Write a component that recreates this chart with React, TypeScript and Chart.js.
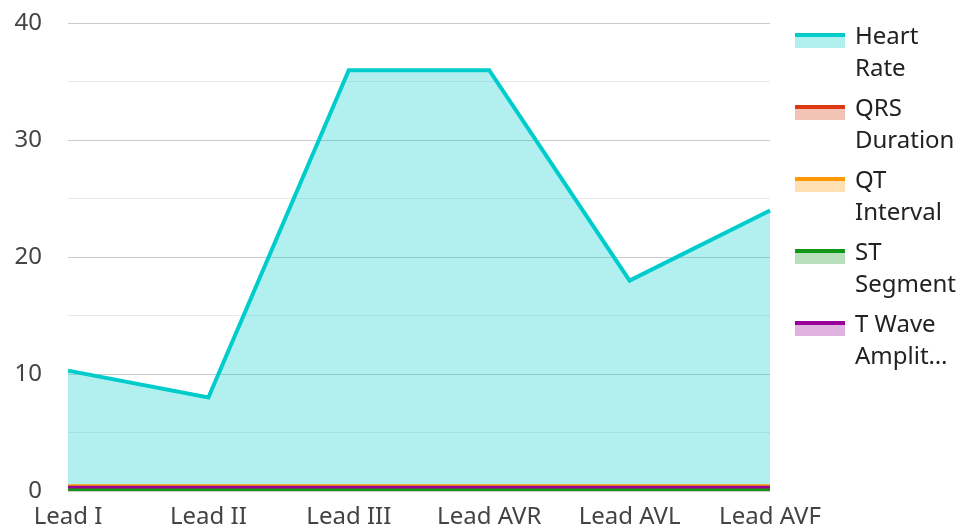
import React, { useEffect, useRef } from 'react';
import { Chart, registerables } from 'chart.js';

Chart.register(...registerables);

const categories = ['Lead I', 'Lead II', 'Lead III', 'Lead AVR', 'Lead AVL', 'Lead AVF'];
const heartRate = [10.3, 8.0, 36.0, 36.0, 18.0, 24.0];
const qrsDuration = [0.2, 0.2, 0.2, 0.2, 0.2, 0.2];
const qtInterval = [0.45, 0.45, 0.45, 0.45, 0.45, 0.45];
const stSegment = [0.08, 0.08, 0.08, 0.08, 0.08, 0.08];
const tWaveAmplitude = [0.33, 0.33, 0.33, 0.33, 0.33, 0.33];
const seriesNames = ['Heart Rate', 'QRS Duration', 'QT Interval', 'ST Segment', 'T Wave Amplitude'];
const legendLines = [
  ['Heart', 'Rate'],
  ['QRS', 'Duration'],
  ['QT', 'Interval'],
  ['ST', 'Segment'],
  ['T Wave', 'Amplit…'],
];
const yMin = 0;
const yMax = 40;
const yStep = 5;
const yLabelStep = 10;

const lineColors = ['#00cccc', '#dc3912', '#ff9900', '#109618', '#990099'];
const fillColors = [
  'rgba(0,204,204,0.3)',
  'rgba(220,57,18,0.3)',
  'rgba(255,153,0,0.3)',
  'rgba(16,150,24,0.3)',
  'rgba(153,0,153,0.3)',
];
const lineWidths = [4, 3, 3, 3, 3];
const drawOrders = [10, 4, 3, 1, 2];
const FONT = '"Noto Sans", "Open Sans", sans-serif';

const legendPlugin = {
  id: 'customLegend',
  afterDraw(chart: any) {
    const ctx = chart.ctx;
    const area = chart.chartArea;
    ctx.save();
    ctx.font = `24px ${FONT}`;
    ctx.textBaseline = 'alphabetic';
    ctx.textAlign = 'left';
    const boxX = area.right + 25;
    legendLines.forEach((lines, i) => {
      const top = 33 + i * 72;
      ctx.fillStyle = fillColors[i];
      ctx.fillRect(boxX, top, 50, 15);
      ctx.fillStyle = lineColors[i];
      ctx.fillRect(boxX, top, 50, 4);
      ctx.fillStyle = '#222222';
      lines.forEach((t, j) => {
        ctx.fillText(t, boxX + 60, top + 11 + j * 32);
      });
    });
    ctx.restore();
  },
};

export default function App() {
  const ref = useRef<HTMLCanvasElement | null>(null);
  useEffect(() => {
    if (!ref.current) return;
    const series = [heartRate, qrsDuration, qtInterval, stSegment, tWaveAmplitude];
    const chart = new Chart(ref.current, {
      type: 'line',
      data: {
        labels: categories,
        datasets: series.map((d, i) => ({
          label: seriesNames[i],
          data: d,
          borderColor: lineColors[i],
          backgroundColor: fillColors[i],
          borderWidth: lineWidths[i],
          borderJoinStyle: 'miter' as const,
          fill: 'origin',
          pointRadius: 0,
          pointHoverRadius: 0,
          tension: 0,
          order: drawOrders[i],
        })),
      },
      options: {
        animation: false,
        responsive: true,
        maintainAspectRatio: false,
        layout: { padding: { top: 23.5, right: 192, left: 0, bottom: 0 } },
        plugins: {
          legend: { display: false },
          tooltip: { enabled: false },
        },
        scales: {
          x: {
            offset: false,
            grid: { display: false },
            border: { display: false },
            ticks: {
              autoSkip: false,
              maxRotation: 0,
              color: '#444444',
              font: { family: FONT, size: 24 },
              padding: 4,
            },
            afterFit(scale: any) {
              scale.height = 40;
            },
          },
          y: {
            min: yMin,
            max: yMax,
            border: { display: false },
            grid: {
              drawTicks: true,
              tickLength: 26,
              tickColor: 'rgba(0,0,0,0)',
              lineWidth: 1,
              color: (c: any) => (c.tick && c.tick.value % yLabelStep === 0 ? '#cccccc' : '#e8e8e8'),
            },
            ticks: {
              stepSize: yStep,
              autoSkip: false,
              color: '#444444',
              font: { family: FONT, size: 24 },
              padding: 0,
              callback: (v: any) => (Number(v) % yLabelStep === 0 ? String(v) : ''),
            },
            afterFit(scale: any) {
              scale.width = 68;
            },
          },
        },
      },
      plugins: [legendPlugin],
    });
    return () => chart.destroy();
  }, []);
  return (
    <div style={{ position: 'fixed', left: 0, top: 0, width: 962, height: 531 }}>
      <canvas ref={ref} />
    </div>
  );
}
